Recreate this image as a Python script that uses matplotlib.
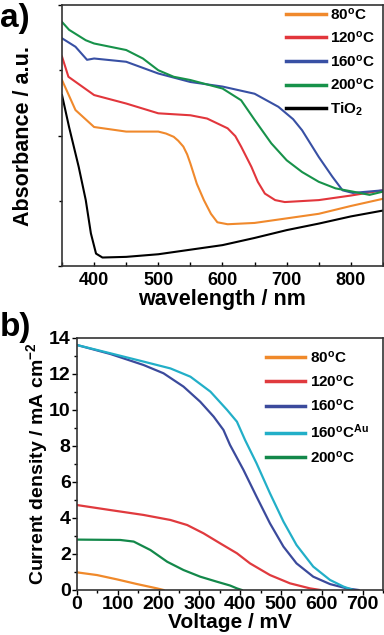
import matplotlib
matplotlib.use("Agg")
import matplotlib.pyplot as plt
from matplotlib.ticker import MultipleLocator, FixedLocator, NullFormatter

plt.rcParams['font.family'] = ['Liberation Sans', 'DejaVu Sans']
plt.rcParams['font.weight'] = 'bold'
plt.rcParams['mathtext.fontset'] = 'custom'
plt.rcParams['mathtext.rm'] = 'Liberation Sans:bold'
plt.rcParams['mathtext.it'] = 'Liberation Sans:bold'
plt.rcParams['mathtext.bf'] = 'Liberation Sans:bold'
plt.rcParams['mathtext.default'] = 'rm'

# ---------- panel a: absorbance spectra ----------
wl_80 = [350, 371, 400, 450, 500, 512, 524, 531, 539, 545, 550, 560, 571, 582, 592, 608, 650, 700, 750, 800, 850]
ab_80 = [2.85, 2.39, 2.13, 2.06, 2.06, 2.03, 1.98, 1.92, 1.83, 1.71, 1.57, 1.26, 1.01, 0.80, 0.67, 0.64, 0.66, 0.73, 0.80, 0.92, 1.03]

wl_120 = [350, 360, 400, 450, 500, 550, 576, 608, 620, 629, 645, 655, 666, 682, 697, 750, 800, 850]
ab_120 = [3.21, 2.90, 2.62, 2.49, 2.34, 2.31, 2.26, 2.11, 1.99, 1.83, 1.52, 1.29, 1.11, 1.01, 0.98, 1.01, 1.08, 1.16]

wl_160 = [350, 371, 389, 400, 450, 500, 550, 600, 650, 687, 710, 724, 750, 771, 787, 803, 850]
ab_160 = [3.49, 3.36, 3.16, 3.18, 3.13, 2.95, 2.82, 2.75, 2.64, 2.44, 2.25, 2.08, 1.67, 1.37, 1.16, 1.12, 1.16]

wl_200 = [350, 361, 387, 400, 450, 476, 500, 524, 550, 600, 629, 650, 676, 700, 724, 750, 776, 803, 829, 850]
ab_200 = [3.74, 3.62, 3.46, 3.41, 3.31, 3.18, 3.00, 2.90, 2.85, 2.72, 2.54, 2.24, 1.88, 1.62, 1.44, 1.29, 1.19, 1.14, 1.09, 1.14]

wl_tio2 = [350, 361, 376, 387, 395, 403, 413, 450, 500, 550, 600, 650, 700, 750, 800, 850]
ab_tio2 = [2.62, 2.13, 1.52, 1.01, 0.50, 0.19, 0.13, 0.14, 0.18, 0.25, 0.32, 0.43, 0.55, 0.65, 0.76, 0.85]

labels_a = ['80$^{o}$C', '120$^{o}$C', '160$^{o}$C', '200$^{o}$C', 'TiO$_{2}$']
colors_a = ['#F0892C', '#E2363C', '#3850A4', '#17924A', '#000000']

# ---------- panel b: J-V curves ----------
v_80 = [0, 49, 98, 147, 196, 212]
j_80 = [0.98, 0.83, 0.59, 0.33, 0.09, 0.0]

v_120 = [0, 82, 163, 229, 270, 310, 351, 392, 424, 473, 522, 571, 596]
j_120 = [4.72, 4.44, 4.17, 3.89, 3.61, 3.15, 2.59, 2.04, 1.48, 0.83, 0.37, 0.09, 0.0]

v_160 = [0, 82, 163, 212, 261, 302, 335, 359, 375, 408, 440, 473, 506, 538, 579, 620, 661, 690]
j_160 = [13.61, 13.11, 12.5, 12.04, 11.3, 10.46, 9.63, 8.89, 8.06, 6.67, 5.19, 3.70, 2.41, 1.48, 0.74, 0.33, 0.09, 0.0]

v_160au = [0, 82, 163, 229, 278, 327, 368, 392, 412, 440, 473, 506, 538, 579, 620, 653, 677]
j_160au = [13.61, 13.15, 12.69, 12.31, 11.85, 11.02, 10.0, 9.35, 8.33, 7.04, 5.37, 3.80, 2.5, 1.30, 0.56, 0.19, 0.0]

v_200 = [0, 106, 139, 180, 221, 261, 302, 343, 375, 392, 404]
j_200 = [2.80, 2.78, 2.69, 2.22, 1.57, 1.11, 0.74, 0.46, 0.25, 0.09, 0.0]

labels_b = ['80$^{o}$C', '120$^{o}$C', '160$^{o}$C', '160$^{o}$C$^{Au}$', '200$^{o}$C']
colors_b = ['#F0892A', '#E03A3E', '#3B4A9C', '#22AFC8', '#13884A']

fig = plt.figure(figsize=(3.84, 6.35), dpi=100)

# panel a
ax1 = fig.add_axes([62/384, 1-266/635, 321/384, 261/635])
series_a = [(wl_80, ab_80), (wl_120, ab_120), (wl_160, ab_160), (wl_200, ab_200), (wl_tio2, ab_tio2)]
for (x, y), c, l in zip(series_a, colors_a, labels_a):
    ax1.plot(x, y, color=c, lw=1.5, label=l)
ax1.set_xlim(350, 850)
ax1.set_ylim(0, 4)
ax1.xaxis.set_major_locator(FixedLocator([400, 500, 600, 700, 800]))
ax1.xaxis.set_minor_locator(MultipleLocator(50))
ax1.yaxis.set_major_locator(FixedLocator([0, 2, 4]))
ax1.yaxis.set_minor_locator(FixedLocator([1, 3]))
ax1.yaxis.set_major_formatter(NullFormatter())
ax1.tick_params(axis='x', which='both', direction='in', length=3, width=1, labelsize=13, pad=4)
ax1.tick_params(axis='y', which='major', direction='out', length=3, width=1)
ax1.tick_params(axis='y', which='minor', direction='out', length=2, width=1)
ax1.set_xlabel('wavelength / nm', fontsize=15.5, fontweight='bold', labelpad=0)
ax1.set_ylabel('Absorbance / a.u.', fontsize=15.5, fontweight='bold', labelpad=14)
for s in ax1.spines.values():
    s.set_linewidth(1.2)
    s.set_color('#333333')
leg1 = ax1.legend(loc='upper right', frameon=False, fontsize=11, handlelength=2.6,
                  handletextpad=0.3, labelspacing=0.5, borderaxespad=0.1,
                  bbox_to_anchor=(1.0, 1.025))
for h in leg1.get_lines():
    h.set_linewidth(2.5)

# panel b
ax2 = fig.add_axes([77/384, 1-590/635, 306/384, 252/635])
series_b = [(v_80, j_80), (v_120, j_120), (v_160, j_160), (v_160au, j_160au), (v_200, j_200)]
for (x, y), c, l in zip(series_b, colors_b, labels_b):
    ax2.plot(x, y, color=c, lw=1.6, label=l)
ax2.set_xlim(0, 750)
ax2.set_ylim(0, 14)
ax2.xaxis.set_major_locator(MultipleLocator(100))
ax2.xaxis.set_minor_locator(MultipleLocator(50))
ax2.yaxis.set_major_locator(MultipleLocator(2))
ax2.yaxis.set_minor_locator(MultipleLocator(1))
ax2.tick_params(which='major', direction='out', length=3.5, width=1, labelsize=14, pad=1)
ax2.tick_params(which='minor', direction='out', length=2, width=1)
ax2.set_xlabel('Voltage / mV', fontsize=15, fontweight='bold', labelpad=0)
ax2.set_ylabel('Current density / mA cm$^{-2}$', fontsize=14, fontweight='bold', labelpad=-1)
for s in ax2.spines.values():
    s.set_linewidth(1.2)
    s.set_color('#333333')
leg2 = ax2.legend(loc='upper right', frameon=False, fontsize=11, handlelength=2.6,
                  handletextpad=0.3, labelspacing=0.55, borderaxespad=0.1,
                  bbox_to_anchor=(0.98, 0.986))
for h in leg2.get_lines():
    h.set_linewidth(2.5)

fig.text(0.0, 1-3/635, 'a)', fontsize=24, fontweight='bold', va='top', ha='left')
fig.text(0.0, 1-312/635, 'b)', fontsize=24, fontweight='bold', va='top', ha='left')

fig.savefig('out.png', dpi=100)
